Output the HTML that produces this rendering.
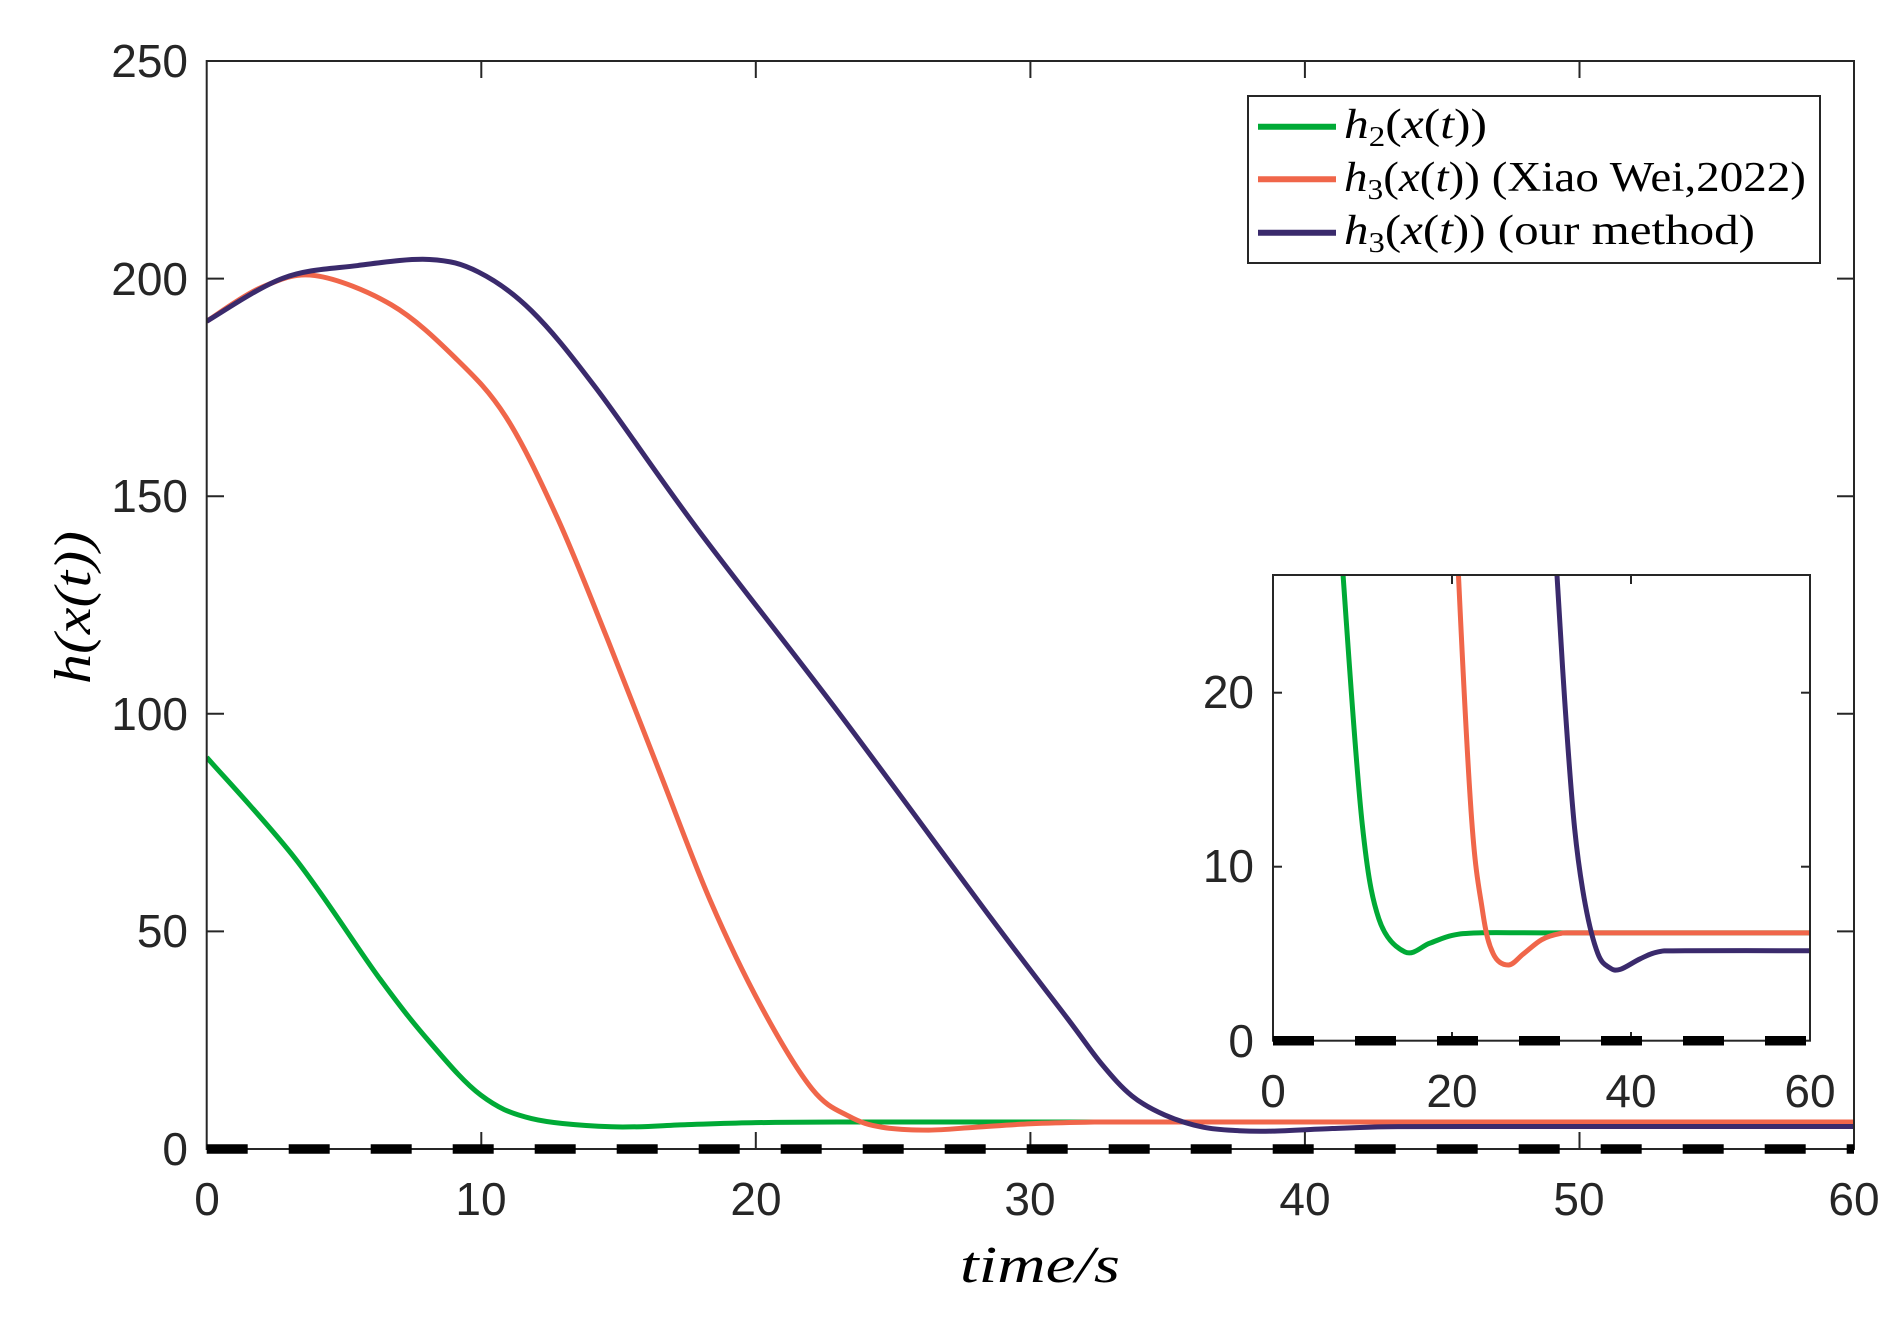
<!DOCTYPE html>
<html><head><meta charset="utf-8"><style>
html,body{margin:0;padding:0;background:#fff;}
svg{display:block;}
.tk{font-family:"Liberation Sans",sans-serif;font-size:46px;fill:#262626;}
.lg{font-family:"Liberation Serif",serif;font-size:42px;fill:#000;}
</style></head><body>
<svg id="s" width="1904" height="1321" viewBox="0 0 1904 1321" xmlns="http://www.w3.org/2000/svg">
<defs>
<clipPath id="cm"><rect x="206.7" y="61" width="1647.3" height="1088"/></clipPath>
<clipPath id="ci"><rect x="1273" y="575" width="537" height="465.7"/></clipPath>
</defs>
<rect x="0" y="0" width="1904" height="1321" fill="#fff"/>
<g id="main" clip-path="url(#cm)"></g>
<rect x="206.7" y="61" width="1647.3" height="1088" fill="none" stroke="#262626" stroke-width="2"/>
<g id="mt" stroke="#262626" stroke-width="2"></g>
<g id="md"></g>
<g class="tk" text-anchor="end">
<text x="188" y="1165">0</text><text x="188" y="947">50</text><text x="188" y="730">100</text>
<text x="188" y="512">150</text><text x="188" y="295">200</text><text x="188" y="77">250</text>
</g>
<g class="tk" text-anchor="middle">
<text x="207" y="1215">0</text><text x="481" y="1215">10</text><text x="756" y="1215">20</text>
<text x="1030" y="1215">30</text><text x="1305" y="1215">40</text><text x="1579" y="1215">50</text><text x="1854" y="1215">60</text>
</g>
<text x="960" y="1282" textLength="160" lengthAdjust="spacingAndGlyphs" style="font-family:'Liberation Serif',serif;font-style:italic;font-size:52px">time/s</text>
<text transform="translate(90,684) rotate(-90)" textLength="153" lengthAdjust="spacingAndGlyphs" style="font-family:'Liberation Serif',serif;font-style:italic;font-size:52px">h(x(t))</text>
<rect x="1248" y="96" width="572" height="167" fill="#fff" stroke="#262626" stroke-width="2"/>
<line x1="1258" y1="126.7" x2="1336" y2="126.7" stroke="#00aa36" stroke-width="6"/>
<line x1="1258" y1="179.3" x2="1336" y2="179.3" stroke="#f0664a" stroke-width="6"/>
<line x1="1258" y1="232.7" x2="1336" y2="232.7" stroke="#3a2a6c" stroke-width="6"/>
<text class="lg" x="1344" y="138" textLength="143" lengthAdjust="spacingAndGlyphs"><tspan font-style="italic">h</tspan><tspan font-size="28" dy="8">2</tspan><tspan dy="-8">(</tspan><tspan font-style="italic">x</tspan>(<tspan font-style="italic">t</tspan>))</text>
<text class="lg" x="1344" y="191" textLength="462" lengthAdjust="spacingAndGlyphs"><tspan font-style="italic">h</tspan><tspan font-size="28" dy="8">3</tspan><tspan dy="-8">(</tspan><tspan font-style="italic">x</tspan>(<tspan font-style="italic">t</tspan>)) (Xiao Wei,2022)</text>
<text class="lg" x="1344" y="244" textLength="411" lengthAdjust="spacingAndGlyphs"><tspan font-style="italic">h</tspan><tspan font-size="28" dy="8">3</tspan><tspan dy="-8">(</tspan><tspan font-style="italic">x</tspan>(<tspan font-style="italic">t</tspan>)) (our method)</text>
<rect x="1273" y="575" width="537" height="465.7" fill="#fff"/>
<g id="ins" clip-path="url(#ci)"></g>
<rect x="1273" y="575" width="537" height="465.7" fill="none" stroke="#262626" stroke-width="2"/>
<g id="it" stroke="#262626" stroke-width="2"></g>
<g id="id"></g>
<g class="tk" text-anchor="end">
<text x="1254" y="1057">0</text><text x="1254" y="882">10</text><text x="1254" y="708">20</text>
</g>
<g class="tk" text-anchor="middle">
<text x="1273" y="1107">0</text><text x="1452" y="1107">20</text><text x="1631" y="1107">40</text><text x="1810" y="1107">60</text>
</g>
</svg>
<script>
var G=[[0,90],[3.24,66.6],[6.26,39.5],[8.12,24.6],[9.98,12.4],[11.83,7.0],[14.75,5.1],[17.5,5.6],[20,6.05],[23,6.2],[30,6.2],[45,6.2],[60,6.2]];
var O=[[0,190.2],[2,198],[3.94,200.7],[6.72,194],[9.05,181.8],[10.9,168.2],[12.76,145.2],[14.62,116.8],[16.48,86.9],[18.34,57.1],[20.2,32.7],[22.05,13.8],[23.4,7.5],[24.6,5.0],[26.3,4.35],[28,5.0],[30,5.8],[32,6.15],[34,6.2],[45,6.2],[60,6.2]];
var P=[[0,190.2],[2.78,200.1],[5.5,203],[8.12,204.4],[9.9,201.5],[11.83,192.6],[14.16,175],[17.87,142.5],[22.99,100.5],[28.56,53.1],[31.35,30.0],[32.6,19.5],[33.7,12.2],[34.9,7.8],[36.3,5.0],[37.6,4.2],[38.8,4.1],[41,4.7],[43,5.1],[46,5.17],[60,5.17]];
function path(d,X,Y){var p=d.map(function(a){return [X(a[0]),Y(a[1])]});var s="M"+p[0][0]+","+p[0][1];
for(var i=0;i<p.length-1;i++){var p0=p[i-1]||p[i],p1=p[i],p2=p[i+1],p3=p[i+2]||p2;
s+=" C"+(p1[0]+(p2[0]-p0[0])/6)+","+(p1[1]+(p2[1]-p0[1])/6)+" "+(p2[0]-(p3[0]-p1[0])/6)+","+(p2[1]-(p3[1]-p1[1])/6)+" "+p2[0]+","+p2[1];}return s;}
var NS="http://www.w3.org/2000/svg";
function draw(g,dg,X,Y,x0,x1,y0){var el=document.getElementById(g);
[[G,"#00aa36"],[O,"#f0664a"],[P,"#3a2a6c"]].forEach(function(c){var e=document.createElementNS(NS,"path");e.setAttribute("d",path(c[0],X,Y));e.setAttribute("fill","none");e.setAttribute("stroke",c[1]);e.setAttribute("stroke-width","5");el.appendChild(e);});
var l=document.createElementNS(NS,"line");l.setAttribute("x1",x0);l.setAttribute("x2",x1);l.setAttribute("y1",y0);l.setAttribute("y2",y0);l.setAttribute("stroke","#000");l.setAttribute("stroke-width","9.5");l.setAttribute("stroke-dasharray","41 41");document.getElementById(dg).appendChild(l);}
draw("main","md",function(t){return 206.7+t*27.455},function(v){return 1149-v*4.352},206.7,1854,1149);
draw("ins","id",function(t){return 1273+t*8.95},function(v){return 1040.7-v*17.4},1273,1810,1040.7);
var s="";[481.3,755.8,1030.4,1304.9,1579.5].forEach(function(x){s+='<line x1="'+x+'" y1="1149" x2="'+x+'" y2="1132"/><line x1="'+x+'" y1="61" x2="'+x+'" y2="78"/>';});
[931.4,713.8,496.2,278.6].forEach(function(y){s+='<line x1="206.7" y1="'+y+'" x2="224" y2="'+y+'"/><line x1="1854" y1="'+y+'" x2="1837" y2="'+y+'"/>';});
document.getElementById("mt").innerHTML=s;
s="";[1452,1631].forEach(function(x){s+='<line x1="'+x+'" y1="1040.7" x2="'+x+'" y2="1032"/><line x1="'+x+'" y1="575" x2="'+x+'" y2="584"/>';});
[866.7,692.7].forEach(function(y){s+='<line x1="1273" y1="'+y+'" x2="1282" y2="'+y+'"/><line x1="1810" y1="'+y+'" x2="1801" y2="'+y+'"/>';});
document.getElementById("it").innerHTML=s;
</script>
</body></html>
